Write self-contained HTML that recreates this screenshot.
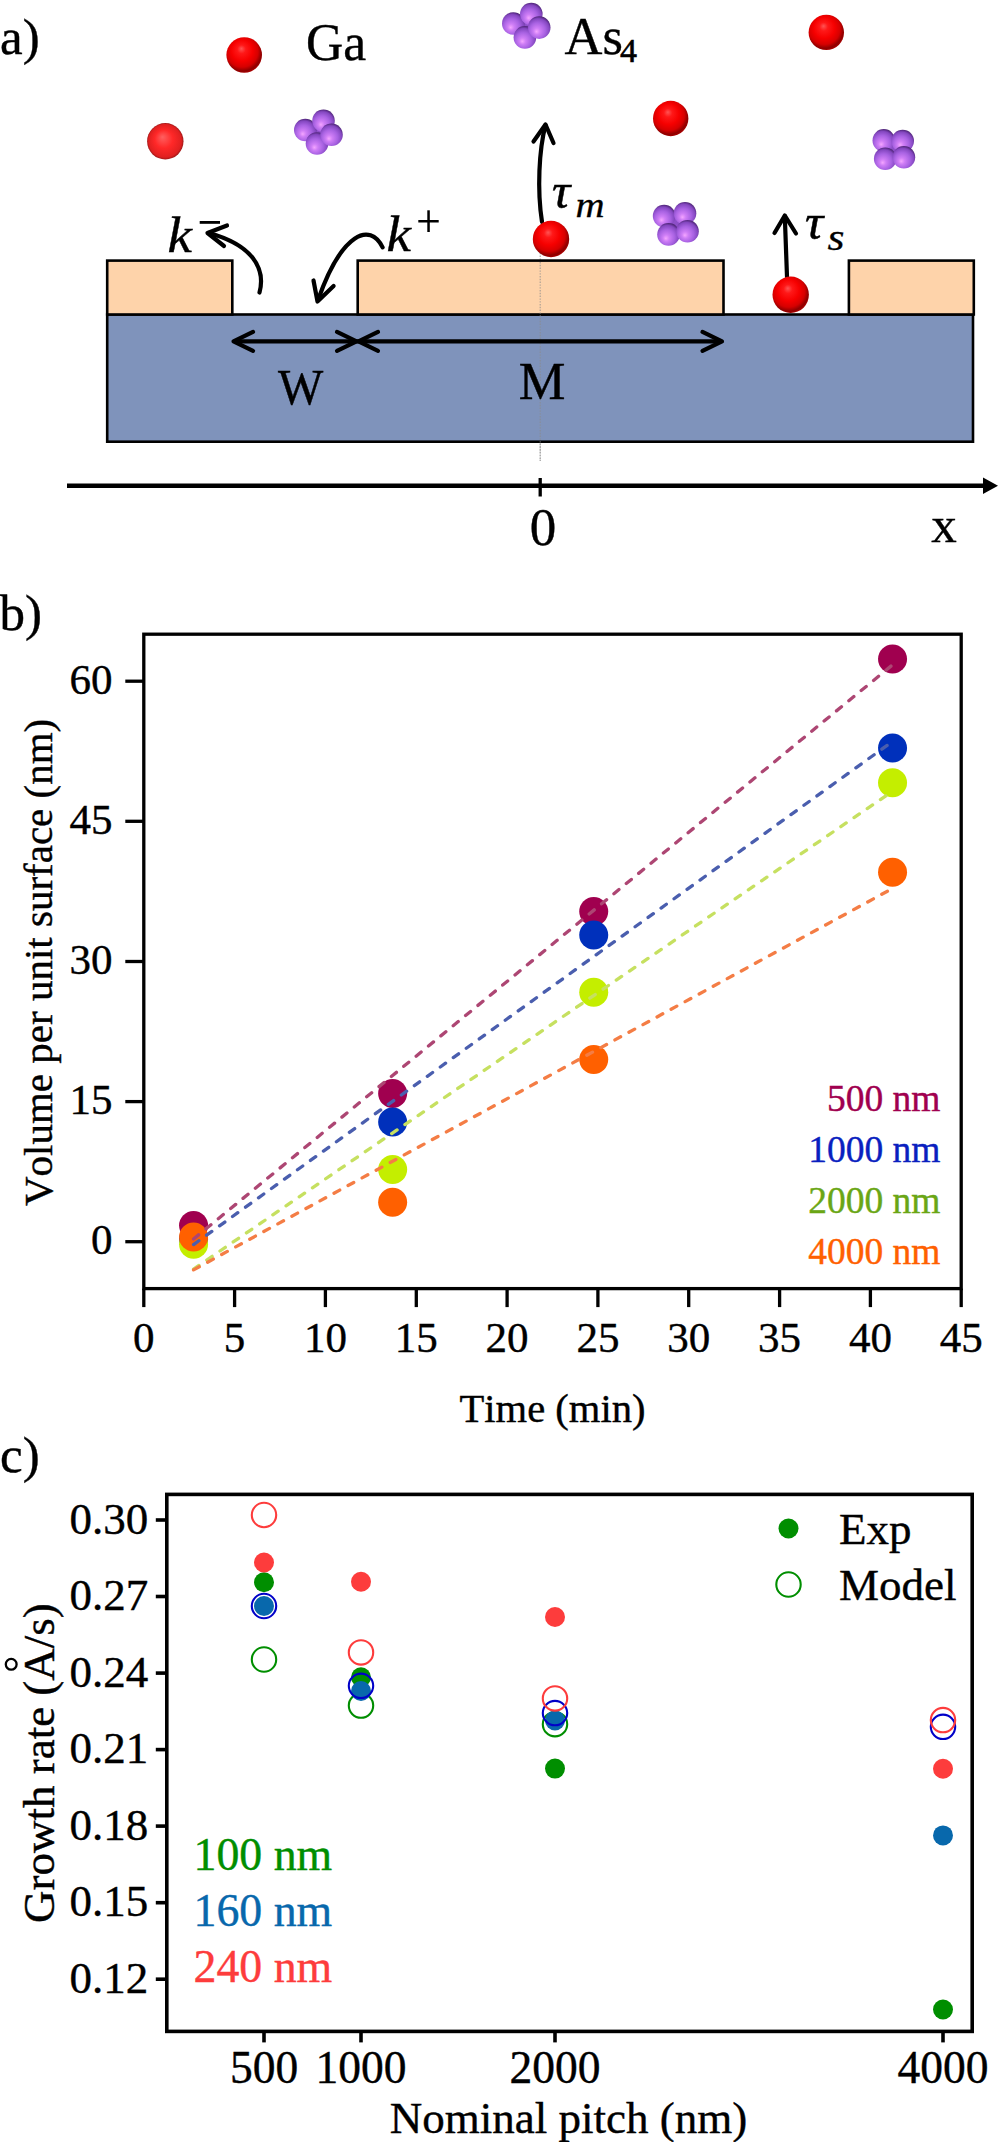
<!DOCTYPE html>
<html><head><meta charset="utf-8"><style>
html,body{margin:0;padding:0;background:#fff;}
svg{display:block;}
text{font-family:"Liberation Serif",serif;font-kerning:none;stroke:#000;stroke-width:0.4px;}
</style></head><body>
<svg width="1000" height="2142" viewBox="0 0 1000 2142">
<defs>
<radialGradient id="rg" cx="0.45" cy="0.42" r="0.6" fx="0.42" fy="0.32">
<stop offset="0" stop-color="#ff5454"/><stop offset="0.2" stop-color="#ff1818"/><stop offset="0.5" stop-color="#f60000"/><stop offset="0.74" stop-color="#d60000"/><stop offset="0.9" stop-color="#8e0000"/><stop offset="1" stop-color="#b00000"/>
</radialGradient>
<radialGradient id="rg2" cx="0.5" cy="0.5" r="0.5" fx="0.42" fy="0.38">
<stop offset="0" stop-color="#ff6060"/><stop offset="0.5" stop-color="#ff2828"/><stop offset="0.9" stop-color="#e02020"/><stop offset="1" stop-color="#a01818"/>
</radialGradient>
<radialGradient id="pg" cx="0.46" cy="0.6" r="0.64" fx="0.38" fy="0.68">
<stop offset="0" stop-color="#f4a6ff"/><stop offset="0.22" stop-color="#cf7ef6"/><stop offset="0.55" stop-color="#a862e2"/><stop offset="0.8" stop-color="#8447c0"/><stop offset="1" stop-color="#3a175c"/>
</radialGradient>
</defs>
<rect x="0" y="0" width="1000" height="2142" fill="#fff"/>

<text x="0" y="54" font-size="51">a)</text>
<line x1="540.2" y1="250" x2="540.2" y2="461" stroke="#a0a0a0" stroke-width="1.1" stroke-dasharray="1.4 1.4"/>
<rect x="107.2" y="314.5" width="865.8" height="127.2" fill="#7f93bb" stroke="#000" stroke-width="2.6"/>
<rect x="107.2" y="260.6" width="125.10000000000001" height="53.9" fill="#fed3aa" stroke="#000" stroke-width="2.6"/>
<rect x="357.7" y="260.6" width="365.8" height="53.9" fill="#fed3aa" stroke="#000" stroke-width="2.6"/>
<rect x="848.9" y="260.6" width="124.89999999999998" height="53.9" fill="#fed3aa" stroke="#000" stroke-width="2.6"/>
<line x1="540.2" y1="262" x2="540.2" y2="461" stroke="#8c8c8c" stroke-width="1.1" stroke-dasharray="1.4 1.4" opacity="0.75"/>
<line x1="67" y1="485.8" x2="985" y2="485.8" stroke="#000" stroke-width="4.4"/>
<path d="M983 477.5 L998 485.8 L983 494 Z" fill="#000"/>
<line x1="540.2" y1="478" x2="540.2" y2="496.5" stroke="#000" stroke-width="3.3"/>
<text x="542.9" y="544.6" font-size="53" text-anchor="middle">0</text>
<text x="944" y="542" font-size="51" text-anchor="middle">x</text>
<line x1="235" y1="341.4" x2="720" y2="341.4" stroke="#000" stroke-width="4.2"/>
<path d="M253.0 331.9 L233.5 341.4 L253.0 350.9" fill="none" stroke="#000" stroke-width="4.2" stroke-linecap="round" stroke-linejoin="round"/>
<path d="M337.0 350.9 L356.5 341.4 L337.0 331.9" fill="none" stroke="#000" stroke-width="4.2" stroke-linecap="round" stroke-linejoin="round"/>
<path d="M378.0 331.9 L358.5 341.4 L378.0 350.9" fill="none" stroke="#000" stroke-width="4.2" stroke-linecap="round" stroke-linejoin="round"/>
<path d="M702.5 350.9 L722.0 341.4 L702.5 331.9" fill="none" stroke="#000" stroke-width="4.2" stroke-linecap="round" stroke-linejoin="round"/>
<text transform="translate(300.6 403.5) scale(0.94 1)" font-size="51" text-anchor="middle">W</text>
<text x="542" y="399" font-size="52.5" text-anchor="middle">M</text>
<path d="M259.5 292.5 C266 268 252 245 209 233" fill="none" stroke="#000" stroke-width="4.2" stroke-linecap="round"/>
<path d="M227 225.5 L207.5 233 L224 246" fill="none" stroke="#000" stroke-width="4.2" stroke-linecap="round" stroke-linejoin="round"/>
<path d="M382.6 247.4 C370 222 342 232 318 300" fill="none" stroke="#000" stroke-width="4.2" stroke-linecap="round"/>
<path d="M313.5 280.5 L317.5 301.5 L333.6 286" fill="none" stroke="#000" stroke-width="4.2" stroke-linecap="round" stroke-linejoin="round"/>
<path d="M542 221.8 C537 190 539 150 545.5 125" fill="none" stroke="#000" stroke-width="4.2" stroke-linecap="round"/>
<path d="M533.5 141.5 L545.5 124.5 L553.5 143" fill="none" stroke="#000" stroke-width="4.2" stroke-linecap="round" stroke-linejoin="round"/>
<path d="M787 276.6 L784.8 216" fill="none" stroke="#000" stroke-width="4.2" stroke-linecap="round"/>
<path d="M774.5 233 L784.8 215.5 L796 233.5" fill="none" stroke="#000" stroke-width="4.2" stroke-linecap="round" stroke-linejoin="round"/>
<text transform="translate(167.5 251.5) scale(1.1 1)" font-size="50" font-style="italic">k</text>
<rect x="199.7" y="221" width="20.3" height="2.8" fill="#000"/>
<text transform="translate(386.5 251) scale(1.1 1)" font-size="50" font-style="italic">k</text>
<rect x="418.3" y="220" width="20.4" height="2.5" fill="#000"/><rect x="427.3" y="210.3" width="2.5" height="21.7" fill="#000"/>
<text x="552" y="208" font-size="51" font-style="italic" style="stroke-width:0.5px">τ</text>
<text transform="translate(575.5 217) scale(1.12 1)" font-size="36" font-style="italic" style="stroke-width:0.3px">m</text>
<text x="805" y="239" font-size="51" font-style="italic" style="stroke-width:0.5px">τ</text>
<text transform="translate(827.5 250) scale(1.15 1)" font-size="38" font-style="italic" style="stroke-width:0.3px">s</text>
<text transform="translate(306 59.8) scale(0.965 1)" font-size="53.5">Ga</text>
<text x="564.5" y="54.2" font-size="52.5">As</text>
<text x="620" y="62" font-size="34" style="stroke-width:0.6px">4</text>
<circle cx="244.2" cy="55" r="17.8" fill="url(#rg)"/>
<circle cx="165.3" cy="141.3" r="18.2" fill="url(#rg2)"/>
<circle cx="826.3" cy="32.4" r="17.7" fill="url(#rg)"/>
<circle cx="670.7" cy="118.5" r="17.7" fill="url(#rg)"/>
<circle cx="551" cy="239" r="18.2" fill="url(#rg)"/>
<circle cx="790.7" cy="294.8" r="18.2" fill="url(#rg)"/>
<circle cx="319.3" cy="132.2" r="6" fill="#8d4fc8"/>
<circle cx="305.3" cy="130" r="11.3" fill="url(#pg)"/>
<circle cx="323.5" cy="120.7" r="11.3" fill="url(#pg)"/>
<circle cx="317" cy="143.5" r="11.3" fill="url(#pg)"/>
<circle cx="331.5" cy="134.7" r="11.3" fill="url(#pg)"/>
<circle cx="527.2" cy="25.6" r="6" fill="#8d4fc8"/>
<circle cx="513.3" cy="23.5" r="11.3" fill="url(#pg)"/>
<circle cx="531.3" cy="14" r="11.3" fill="url(#pg)"/>
<circle cx="524.9" cy="37.4" r="11.3" fill="url(#pg)"/>
<circle cx="539.2" cy="27.6" r="11.3" fill="url(#pg)"/>
<circle cx="676.3" cy="223.8" r="6" fill="#8d4fc8"/>
<circle cx="664.1" cy="216.1" r="11.3" fill="url(#pg)"/>
<circle cx="685" cy="213.2" r="11.3" fill="url(#pg)"/>
<circle cx="668.5" cy="234.4" r="11.3" fill="url(#pg)"/>
<circle cx="687.5" cy="231.3" r="11.3" fill="url(#pg)"/>
<circle cx="893.9" cy="149.3" r="6" fill="#8d4fc8"/>
<circle cx="883.8" cy="140.4" r="11.3" fill="url(#pg)"/>
<circle cx="902.7" cy="141" r="11.3" fill="url(#pg)"/>
<circle cx="885.2" cy="158.7" r="11.3" fill="url(#pg)"/>
<circle cx="903.9" cy="157.3" r="11.3" fill="url(#pg)"/>
<text x="-0.5" y="629.8" font-size="51">b)</text>
<line x1="143.8" y1="1288.6" x2="143.8" y2="1307.1" stroke="#000" stroke-width="3.3"/>
<text x="143.8" y="1351.5" font-size="43" text-anchor="middle">0</text>
<line x1="234.6" y1="1288.6" x2="234.6" y2="1307.1" stroke="#000" stroke-width="3.3"/>
<text x="234.6" y="1351.5" font-size="43" text-anchor="middle">5</text>
<line x1="325.4" y1="1288.6" x2="325.4" y2="1307.1" stroke="#000" stroke-width="3.3"/>
<text x="325.4" y="1351.5" font-size="43" text-anchor="middle">10</text>
<line x1="416.3" y1="1288.6" x2="416.3" y2="1307.1" stroke="#000" stroke-width="3.3"/>
<text x="416.3" y="1351.5" font-size="43" text-anchor="middle">15</text>
<line x1="507.1" y1="1288.6" x2="507.1" y2="1307.1" stroke="#000" stroke-width="3.3"/>
<text x="507.1" y="1351.5" font-size="43" text-anchor="middle">20</text>
<line x1="597.9" y1="1288.6" x2="597.9" y2="1307.1" stroke="#000" stroke-width="3.3"/>
<text x="597.9" y="1351.5" font-size="43" text-anchor="middle">25</text>
<line x1="688.7" y1="1288.6" x2="688.7" y2="1307.1" stroke="#000" stroke-width="3.3"/>
<text x="688.7" y="1351.5" font-size="43" text-anchor="middle">30</text>
<line x1="779.6" y1="1288.6" x2="779.6" y2="1307.1" stroke="#000" stroke-width="3.3"/>
<text x="779.6" y="1351.5" font-size="43" text-anchor="middle">35</text>
<line x1="870.4" y1="1288.6" x2="870.4" y2="1307.1" stroke="#000" stroke-width="3.3"/>
<text x="870.4" y="1351.5" font-size="43" text-anchor="middle">40</text>
<line x1="961.2" y1="1288.6" x2="961.2" y2="1307.1" stroke="#000" stroke-width="3.3"/>
<text x="961.2" y="1351.5" font-size="43" text-anchor="middle">45</text>
<line x1="125.30000000000001" y1="1241.7" x2="143.8" y2="1241.7" stroke="#000" stroke-width="3.3"/>
<text x="112.5" y="1254.0" font-size="43" text-anchor="end">0</text>
<line x1="125.30000000000001" y1="1101.6" x2="143.8" y2="1101.6" stroke="#000" stroke-width="3.3"/>
<text x="112.5" y="1113.9" font-size="43" text-anchor="end">15</text>
<line x1="125.30000000000001" y1="961.5" x2="143.8" y2="961.5" stroke="#000" stroke-width="3.3"/>
<text x="112.5" y="973.8" font-size="43" text-anchor="end">30</text>
<line x1="125.30000000000001" y1="821.3" x2="143.8" y2="821.3" stroke="#000" stroke-width="3.3"/>
<text x="112.5" y="833.6" font-size="43" text-anchor="end">45</text>
<line x1="125.30000000000001" y1="681.2" x2="143.8" y2="681.2" stroke="#000" stroke-width="3.3"/>
<text x="112.5" y="693.5" font-size="43" text-anchor="end">60</text>
<text x="552.5" y="1421.5" font-size="40.6" text-anchor="middle">Time (min)</text>
<text transform="translate(52 962.4) rotate(-90)" font-size="41" text-anchor="middle">Volume per unit surface (nm)</text>
<circle cx="193.57" cy="1225.54" r="14.5" fill="#a0004f"/>
<circle cx="392.65" cy="1093.54" r="14.5" fill="#a0004f"/>
<circle cx="593.73" cy="911.47" r="14.5" fill="#a0004f"/>
<circle cx="892.54" cy="658.97" r="14.5" fill="#a0004f"/>
<circle cx="193.57" cy="1238.90" r="14.5" fill="#0030bb"/>
<circle cx="392.65" cy="1122.03" r="14.5" fill="#0030bb"/>
<circle cx="593.73" cy="935.01" r="14.5" fill="#0030bb"/>
<circle cx="892.54" cy="747.90" r="14.5" fill="#0030bb"/>
<circle cx="193.57" cy="1244.32" r="14.5" fill="#c4ee00"/>
<circle cx="392.65" cy="1169.49" r="14.5" fill="#c4ee00"/>
<circle cx="593.73" cy="992.28" r="14.5" fill="#c4ee00"/>
<circle cx="892.54" cy="782.74" r="14.5" fill="#c4ee00"/>
<circle cx="193.57" cy="1237.03" r="14.5" fill="#ff6000"/>
<circle cx="392.65" cy="1202.37" r="14.5" fill="#ff6000"/>
<circle cx="593.73" cy="1059.44" r="14.5" fill="#ff6000"/>
<circle cx="892.54" cy="872.14" r="14.5" fill="#ff6000"/>
<line x1="193.57" y1="1238.99" x2="892.54" y2="664.81" stroke="#ad4673" stroke-width="3.3" stroke-linecap="round" stroke-dasharray="6.5 9.5"/>
<line x1="193.57" y1="1244.55" x2="892.54" y2="741.49" stroke="#4a5eae" stroke-width="3.3" stroke-linecap="round" stroke-dasharray="6.5 9.5"/>
<line x1="193.57" y1="1269.05" x2="892.54" y2="791.29" stroke="#c6e060" stroke-width="3.3" stroke-linecap="round" stroke-dasharray="6.5 9.5"/>
<line x1="193.57" y1="1269.86" x2="892.54" y2="888.42" stroke="#f47d45" stroke-width="3.3" stroke-linecap="round" stroke-dasharray="6.5 9.5"/>
<text x="940.5" y="1110.8" font-size="37.5" text-anchor="end" fill="#a0004f" style="stroke:#a0004f">500 nm</text>
<text x="940.5" y="1161.9" font-size="37.5" text-anchor="end" fill="#0a1fbf" style="stroke:#0a1fbf">1000 nm</text>
<text x="940.5" y="1213.0" font-size="37.5" text-anchor="end" fill="#6aa615" style="stroke:#6aa615">2000 nm</text>
<text x="940.5" y="1264.1" font-size="37.5" text-anchor="end" fill="#ff6000" style="stroke:#ff6000">4000 nm</text>
<rect x="143.8" y="634.2" width="817.4000000000001" height="654.3999999999999" fill="none" stroke="#000" stroke-width="3.3"/>
<text x="0" y="1471.6" font-size="51">c)</text>
<line x1="264.0" y1="2031.4" x2="264.0" y2="2042.4" stroke="#000" stroke-width="3.6"/>
<text x="264.0" y="2082.8" font-size="45.5" text-anchor="middle">500</text>
<line x1="361.0" y1="2031.4" x2="361.0" y2="2042.4" stroke="#000" stroke-width="3.6"/>
<text x="361.0" y="2082.8" font-size="45.5" text-anchor="middle">1000</text>
<line x1="555.0" y1="2031.4" x2="555.0" y2="2042.4" stroke="#000" stroke-width="3.6"/>
<text x="555.0" y="2082.8" font-size="45.5" text-anchor="middle">2000</text>
<line x1="943.0" y1="2031.4" x2="943.0" y2="2042.4" stroke="#000" stroke-width="3.6"/>
<text x="943.0" y="2082.8" font-size="45.5" text-anchor="middle">4000</text>
<line x1="155.8" y1="1979.2" x2="166.8" y2="1979.2" stroke="#000" stroke-width="3.6"/>
<text x="148.3" y="1992.8" font-size="45" text-anchor="end">0.12</text>
<line x1="155.8" y1="1902.7" x2="166.8" y2="1902.7" stroke="#000" stroke-width="3.6"/>
<text x="148.3" y="1916.2" font-size="45" text-anchor="end">0.15</text>
<line x1="155.8" y1="1826.1" x2="166.8" y2="1826.1" stroke="#000" stroke-width="3.6"/>
<text x="148.3" y="1839.7" font-size="45" text-anchor="end">0.18</text>
<line x1="155.8" y1="1749.6" x2="166.8" y2="1749.6" stroke="#000" stroke-width="3.6"/>
<text x="148.3" y="1763.2" font-size="45" text-anchor="end">0.21</text>
<line x1="155.8" y1="1673.1" x2="166.8" y2="1673.1" stroke="#000" stroke-width="3.6"/>
<text x="148.3" y="1686.7" font-size="45" text-anchor="end">0.24</text>
<line x1="155.8" y1="1596.5" x2="166.8" y2="1596.5" stroke="#000" stroke-width="3.6"/>
<text x="148.3" y="1610.1" font-size="45" text-anchor="end">0.27</text>
<line x1="155.8" y1="1520.0" x2="166.8" y2="1520.0" stroke="#000" stroke-width="3.6"/>
<text x="148.3" y="1533.6" font-size="45" text-anchor="end">0.30</text>
<text x="568.5" y="2132.5" font-size="45" text-anchor="middle">Nominal pitch (nm)</text>
<text transform="translate(54 1763.1) rotate(-90)" font-size="45" text-anchor="middle">Growth rate (<tspan>A</tspan>/s)</text>
<circle cx="11.2" cy="1664.3" r="5.4" fill="none" stroke="#000" stroke-width="2.3"/>
<circle cx="264.0" cy="1582.3" r="10" fill="#008e00"/>
<circle cx="361.0" cy="1677.2" r="10" fill="#008e00"/>
<circle cx="555.0" cy="1768.6" r="10" fill="#008e00"/>
<circle cx="943.0" cy="2009.5" r="10" fill="#008e00"/>
<circle cx="264.0" cy="1659.5" r="12.2" fill="none" stroke="#008e00" stroke-width="2.1"/>
<circle cx="361.0" cy="1705.6" r="12.2" fill="none" stroke="#008e00" stroke-width="2.1"/>
<circle cx="555.0" cy="1724.2" r="12.2" fill="none" stroke="#008e00" stroke-width="2.1"/>
<circle cx="264.0" cy="1606.0" r="10" fill="#0868ac"/>
<circle cx="361.0" cy="1691.0" r="10" fill="#0868ac"/>
<circle cx="555.0" cy="1720.4" r="10" fill="#0868ac"/>
<circle cx="943.0" cy="1835.4" r="10" fill="#0868ac"/>
<circle cx="264.0" cy="1606.0" r="12.2" fill="none" stroke="#0000c8" stroke-width="2.1"/>
<circle cx="361.0" cy="1685.8" r="12.2" fill="none" stroke="#0000c8" stroke-width="2.1"/>
<circle cx="555.0" cy="1713.1" r="12.2" fill="none" stroke="#0000c8" stroke-width="2.1"/>
<circle cx="943.0" cy="1726.8" r="12.2" fill="none" stroke="#0000c8" stroke-width="2.1"/>
<circle cx="264.0" cy="1562.5" r="10" fill="#fd3c3c"/>
<circle cx="361.0" cy="1581.8" r="10" fill="#fd3c3c"/>
<circle cx="555.0" cy="1617.0" r="10" fill="#fd3c3c"/>
<circle cx="943.0" cy="1768.8" r="10" fill="#fd3c3c"/>
<circle cx="264.0" cy="1515.0" r="12.2" fill="none" stroke="#fd3c3c" stroke-width="2.1"/>
<circle cx="361.0" cy="1652.4" r="12.2" fill="none" stroke="#fd3c3c" stroke-width="2.1"/>
<circle cx="555.0" cy="1698.4" r="12.2" fill="none" stroke="#fd3c3c" stroke-width="2.1"/>
<circle cx="943.0" cy="1720.1" r="12.2" fill="none" stroke="#fd3c3c" stroke-width="2.1"/>
<circle cx="788.5" cy="1528.5" r="10" fill="#008e00"/>
<circle cx="788.5" cy="1584.5" r="12.2" fill="none" stroke="#008e00" stroke-width="2.1"/>
<text x="839" y="1544.4" font-size="45">Exp</text>
<text x="839" y="1600" font-size="45">Model</text>
<text x="193.5" y="1870.0" font-size="45.8" fill="#008e00" style="stroke:#008e00">100 nm</text>
<text x="193.5" y="1926.0" font-size="45.8" fill="#0868ac" style="stroke:#0868ac">160 nm</text>
<text x="193.5" y="1982.0" font-size="45.8" fill="#fd3c3c" style="stroke:#fd3c3c">240 nm</text>
<rect x="166.8" y="1494.4" width="805.4000000000001" height="537.0" fill="none" stroke="#000" stroke-width="3.6"/>
</svg></body></html>
